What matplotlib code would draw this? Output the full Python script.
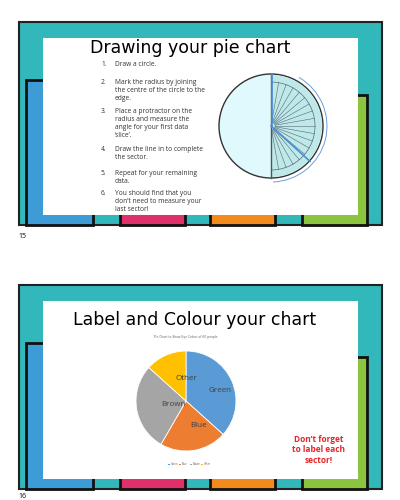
import matplotlib
matplotlib.use("Agg")
import matplotlib.pyplot as plt
import matplotlib.patches as mp
import numpy as np

categories = ["Green", "Blue", "Brown", "Other"]
counts = [22, 13, 17, 8]
colors = ["#5b9bd5", "#ed7d31", "#a5a5a5", "#ffc000"]
steps = ["Draw a circle.",
         "Mark the radius by joining\nthe centre of the circle to the\nedge.",
         "Place a protractor on the\nradius and measure the\nangle for your first data\n\u2018slice\u2019.",
         "Draw the line in to complete\nthe sector.",
         "Repeat for your remaining\ndata.",
         "You should find that you\ndon\u2019t need to measure your\nlast sector!"]

fig = plt.figure(figsize=(4, 5), dpi=100)
ax = fig.add_axes([0, 0, 1, 1])
ax.set_xlim(0, 400); ax.set_ylim(500, 0); ax.set_aspect("equal"); ax.axis("off")

TEAL = "#32b8bb"
def slide(y0, y1, blue_top, green_top, wy0, wy1):
    ax.add_patch(mp.Rectangle((19, y0), 363, y1 - y0, fc=TEAL, ec="#222", lw=1.5, zorder=1))
    for x0, x1, c, top in [(26, 93, "#3d9bd6", blue_top), (120, 185, "#e0306a", blue_top),
                           (210, 275, "#f28a1e", blue_top), (302, 367, "#8bc540", green_top)]:
        ax.add_patch(mp.Rectangle((x0, top), x1 - x0, y1 - top, fc=c, ec="#111", lw=2, zorder=2))
    ax.add_patch(mp.Rectangle((43, wy0), 315, wy1 - wy0, fc="white", ec="none", zorder=3))

slide(22, 225, 80, 95, 38, 215)
slide(285, 489, 343, 357, 301, 479)
ax.text(18, 237, "15", fontsize=5, family="Open Sans", va="center")
ax.text(18, 497, "16", fontsize=5, family="Open Sans", va="center")

# slide 1
ax.text(190, 48, "Drawing your pie chart", fontsize=12.5, ha="center", va="center", zorder=5)
ys = [61, 79, 108, 146, 170, 190]
for i, (s, y) in enumerate(zip(steps, ys)):
    ax.text(101, y, f"{i+1}.", fontsize=4.8, family="Open Sans", va="top", zorder=5, color="#333")
    ax.text(115, y, s, fontsize=4.8, family="Open Sans", va="top", zorder=5, color="#333", linespacing=1.2)
cx, cy, r = 271, 126, 52
ax.add_patch(mp.Circle((cx, cy), r, fc="#dff9fc", ec="#333", lw=1, zorder=5))
ax.add_patch(mp.Wedge((cx, cy), r - 1, -90, 90, fc="#bfe9e8", ec="none", zorder=6))
for a in np.arange(-90, 91, 10):
    t = np.radians(a)
    ax.plot([cx + 4 * np.cos(t), cx + (r - 8) * np.cos(t)], [cy - 4 * np.sin(t), cy - (r - 8) * np.sin(t)],
            color="#567", lw=0.4, zorder=7)
ax.add_patch(mp.Arc((cx, cy), 2 * (r - 8), 2 * (r - 8), theta1=-90, theta2=90, color="#567", lw=0.5, zorder=7))
ax.add_patch(mp.Arc((cx, cy), 2 * (r + 4), 2 * (r + 4), theta1=-60, theta2=88, color="#6aa0d8", lw=0.7, zorder=7))
ax.plot([cx, cx], [cy - r, cy + r], color="#555", lw=1, zorder=8)
ax.plot([cx, cx + 0.75 * r], [cy, cy + 0.68 * r], color="#4a8fd6", lw=1.2, zorder=8)
ax.plot([cx + 1, cx + 1], [cy, cy - r], color="#4a8fd6", lw=1.2, zorder=8)

# slide 2
ax.text(195, 320, "Label and Colour your chart", fontsize=12.5, ha="center", va="center", zorder=5)
ax.text(186, 337, "Pie Chart to Show Eye Colour of 60 people", fontsize=2.2, ha="center", va="center", color="#666", zorder=5)
wedges, texts = ax.pie(counts, colors=colors, labels=categories, labeldistance=0.5, center=(186, 401), radius=50,
                       startangle=-90, counterclock=True, frame=True,
                       wedgeprops=dict(edgecolor="white", linewidth=0.6, zorder=5),
                       textprops=dict(fontsize=5.8, family="Open Sans", color="#404040", zorder=6))
for w in wedges: w.set_zorder(5)
ax.set_xlim(0, 400); ax.set_ylim(500, 0); ax.axis("off")
xl = 168
for c, n in zip(colors, categories):
    ax.add_patch(mp.Rectangle((xl, 463.5), 1.5, 1.5, fc=c, zorder=6))
    ax.text(xl + 2.5, 464.2, n, fontsize=1.8, va="center", color="#666", zorder=6)
    xl += 11
ax.text(319, 450, "Don\u2019t forget\nto label each\nsector!", fontsize=6, family="Open Sans", weight="bold",
        color="#e52628", ha="center", va="center", linespacing=1.15, zorder=6)

fig.savefig("out.png", dpi=100)
